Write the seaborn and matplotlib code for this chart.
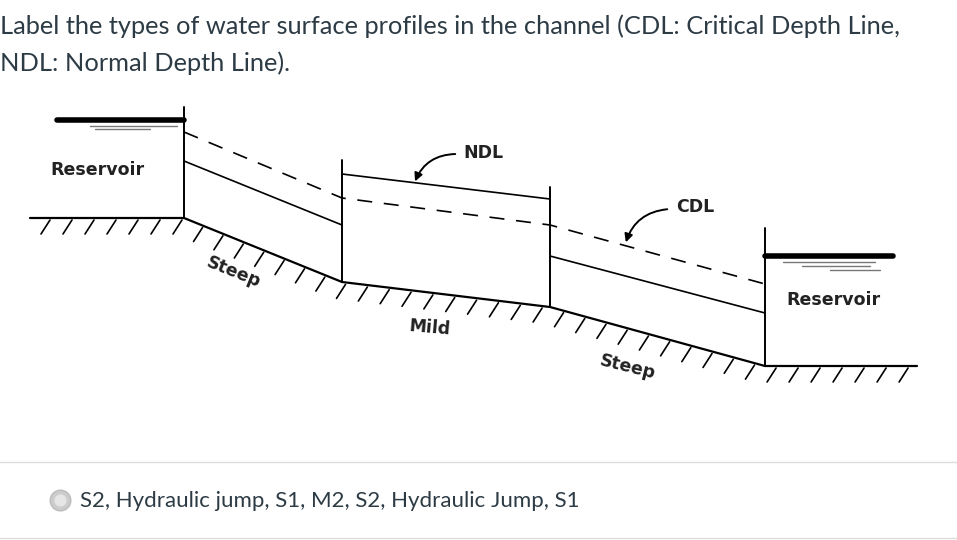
import matplotlib
matplotlib.use("Agg")
import matplotlib.pyplot as plt
import seaborn as sns
import numpy as np
import pandas as pd

sns.set_theme(style="white")
plt.rcParams['font.family'] = ['Lato', 'DejaVu Sans']

title_lines = ["Label the types of water surface profiles in the channel (CDL: Critical Depth Line,",
               "NDL: Normal Depth Line)."]
answer = "S2, Hydraulic jump, S1, M2, S2, Hydraulic Jump, S1"

# channel geometry (diagram units = pixels)
bed_x = [30, 184, 342, 550, 765, 917]
bed_y = [218, 218, 282, 307, 366, 366]
walls_x = [184, 342, 550, 765]
walls_top = [107, 160, 187, 228]
walls_bot = [218, 282, 307, 366]
cdl_x = [184, 342, 550, 765]
cdl_y = [132, 198, 225, 284]
solid_segments = [((184, 161), (342, 225)), ((342, 174), (550, 199)), ((550, 256), (765, 313))]
reservoir_left = ([57, 184], [120, 120])
reservoir_right = ([765, 893], [256, 256])
bed_labels = ["Steep", "Mild", "Steep"]

fig = plt.figure(figsize=(9.57, 5.40), dpi=100)
ax = fig.add_axes([0, 0, 1, 1])
ax.set_xlim(0, 957)
ax.set_ylim(540, 0)
ax.axis('off')

k = dict(color='black', lw=1.6, sort=False, estimator=None, ax=ax, legend=False)
sns.lineplot(x=bed_x, y=bed_y, **k)
for wx, wt, wb in zip(walls_x, walls_top, walls_bot):
    ax.plot([wx, wx], [wt, wb], color='black', lw=1.4)
sns.lineplot(x=cdl_x, y=cdl_y, color='black', lw=1.2, sort=False, ax=ax).lines[-1].set_dashes([9, 7])
for (x0, y0), (x1, y1) in solid_segments:
    ax.plot([x0, x1], [y0, y1], color='black', lw=1.2)
ax.plot(*reservoir_left, color='black', lw=4, solid_capstyle='round')
ax.plot(*reservoir_right, color='black', lw=4, solid_capstyle='round')
# water marks
for y, xa, xb in [(126, 90, 177), (129, 95, 150)]:
    ax.plot([xa, xb], [y, y], color='#777777', lw=1)
for y, xa, xb in [(262, 783, 875), (266, 802, 870), (270, 830, 880)]:
    ax.plot([xa, xb], [y, y], color='#777777', lw=1)

# hatching along bed
bx = np.array(bed_x, float); by = np.array(bed_y, float)
seg_len = np.hypot(np.diff(bx), np.diff(by))
cum = np.concatenate([[0], np.cumsum(seg_len)])
for s in np.arange(20, cum[-1], 22):
    i = np.searchsorted(cum, s) - 1
    t = (s - cum[i]) / seg_len[i]
    px = bx[i] + t * (bx[i+1] - bx[i]); py = by[i] + t * (by[i+1] - by[i])
    ax.plot([px, px - 9], [py + 2, py + 16], color='black', lw=1.2)

lab = dict(fontsize=12.5, fontweight='bold', family='DejaVu Sans', ha='center', va='center', color='#222')
ax.text(97, 170, "Reservoir", **lab)
ax.text(833, 300, "Reservoir", **lab)
ax.text(234, 272, bed_labels[0], rotation=-22, **lab)
ax.text(430, 328, bed_labels[1], rotation=-5, **lab)
ax.text(628, 367, bed_labels[2], rotation=-14, **lab)
ax.text(483, 153, "NDL", **lab)
ax.text(695, 207, "CDL", **lab)
ax.annotate("", xy=(414, 184), xytext=(458, 154),
            arrowprops=dict(arrowstyle='-|>', color='black', lw=1.4, connectionstyle='arc3,rad=0.35'))
ax.annotate("", xy=(625, 245), xytext=(670, 209),
            arrowprops=dict(arrowstyle='-|>', color='black', lw=1.4, connectionstyle='arc3,rad=0.35'))

ax.text(0, 26, title_lines[0], fontsize=18.3, color='#2d3b45', va='center', ha='left')
ax.text(0, 63, title_lines[1], fontsize=18.3, color='#2d3b45', va='center', ha='left')

ax.plot([0, 957], [462, 462], color='#dddddd', lw=1)
ax.plot([0, 957], [538, 538], color='#dddddd', lw=1)
ax.scatter([60], [500], s=220, color='#cccccc', edgecolor='#bbbbbb', zorder=3)
ax.scatter([60], [500], s=60, color='#e6e6e6', zorder=4)
ax.text(80, 501, answer, fontsize=16, color='#2d3b45', va='center', ha='left')

fig.savefig("out.png", dpi=100)
